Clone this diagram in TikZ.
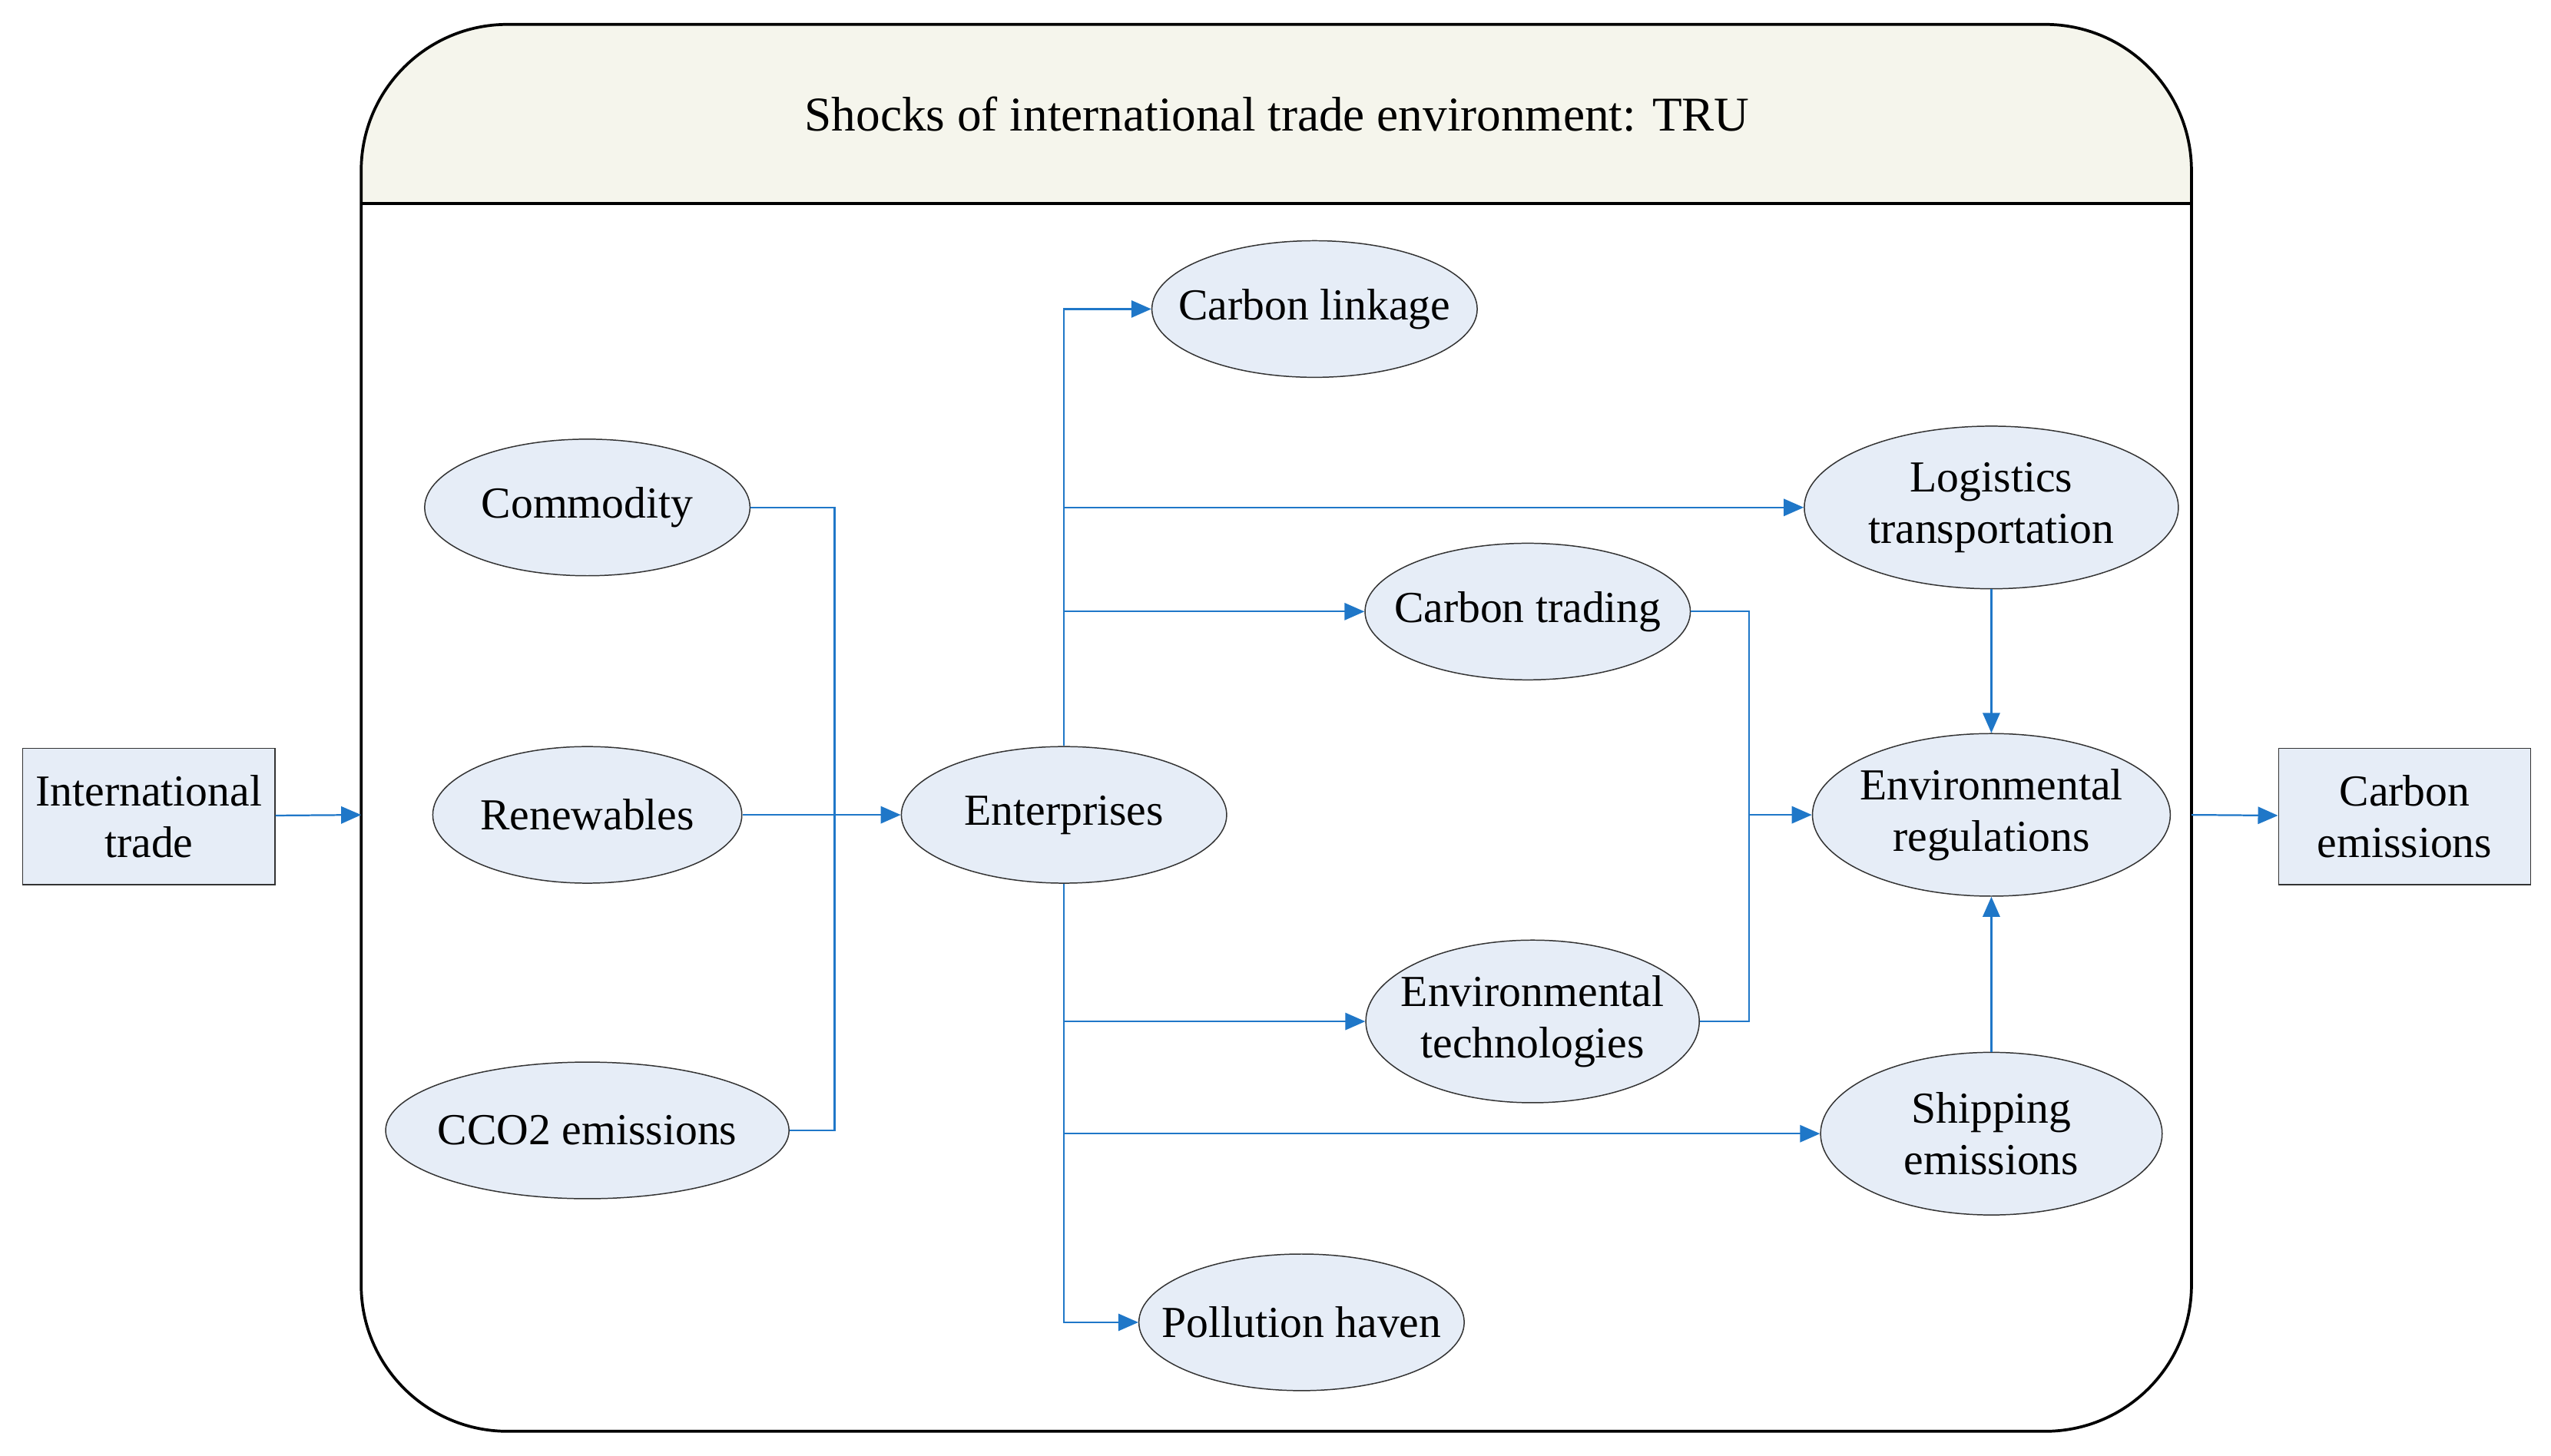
\documentclass[tikz,border=0pt]{standalone}
\usepackage{fontspec}
\setmainfont{Liberation Serif}
\usetikzlibrary{arrows.meta, positioning, shapes.geometric}
\definecolor{lnblue}{RGB}{31,119,200}
\definecolor{ellfill}{RGB}{230,237,247}
\definecolor{headfill}{RGB}{245,245,236}

\begin{document}
\begin{tikzpicture}[x=0.02cm, y=-0.02cm, every node/.style={font=\fontsize{15.5}{18}\selectfont},
  ell/.style={ellipse, draw=black!80, fill=ellfill, inner xsep=-0.5cm, inner ysep=-0.3cm, align=center},
  sqbox/.style={rectangle, draw=black!80, fill=ellfill, minimum width=3.1cm, minimum height=1.68cm, align=center},
  link/.style={lnblue, line width=0.6pt},
  arr/.style={link, -{Triangle[length=7pt, width=6pt]}}]
  \useasboundingbox (0,0) rectangle (1568,895);

  % outer frame
  \begin{scope}
    \clip (222,15) rectangle (1347,125);
    \fill[headfill, rounded corners=1.8cm] (222,15) rectangle (1347,880);
  \end{scope}
  \draw[line width=1pt, rounded corners=1.8cm] (222,15) rectangle (1347,880);
  \draw[line width=1pt] (222,125) -- (1347,125);
  \node[font=\fontsize{17}{20}\selectfont] (title) at (785,70) {Shocks of international trade environment: TRU};
  \coordinate (framein) at (222,501);
  \coordinate (frameout) at (1347,501);

  % nodes
  \node[sqbox] (trade) at (91.5,502) {International\\trade};
  \node[sqbox] (carbem) at (1478,502) {Carbon\\emissions};
  \node[ell, minimum width=4cm, minimum height=1.68cm] (comm) at (361,312) {Commodity};
  \node[ell, minimum width=3.8cm, minimum height=1.68cm] (renew) at (361,501) {Renewables};
  \node[ell, minimum width=4.96cm, minimum height=1.68cm] (cco) at (361,695) {CCO2 emissions};
  \node[ell, minimum width=4cm, minimum height=1.68cm] (enter) at (654,501) {Enterprises};
  \node[ell, minimum width=4cm, minimum height=1.68cm] (link) at (808,190) {Carbon linkage};
  \node[ell, minimum width=4.6cm, minimum height=2cm] (logis) at (1224,312) {Logistics\\transportation};
  \node[ell, minimum width=4cm, minimum height=1.68cm] (ctrade) at (939,376) {Carbon trading};
  \node[ell, minimum width=4.4cm, minimum height=2cm] (envreg) at (1224,501) {Environmental\\regulations};
  \node[ell, minimum width=4.1cm, minimum height=2cm] (envtech) at (942,628) {Environmental\\technologies};
  \node[ell, minimum width=4.2cm, minimum height=2cm] (ship) at (1224,697) {Shipping\\emissions};
  \node[ell, minimum width=4cm, minimum height=1.68cm] (haven) at (800,813) {Pollution haven};

  % connectors
  \draw[arr] (trade) -- (framein);
  \draw[arr] (frameout) -- (carbem);
  \draw[link] (comm.east) -- (513,312) |- (cco.east);
  \draw[arr] (renew) -- (enter);
  \draw[arr] (enter.north) |- (link.west);
  \draw[arr] (654,312) -- (logis.west);
  \draw[arr] (654,376) -- (ctrade.west);
  \draw[arr] (enter.south) |- (haven.west);
  \draw[arr] (654,628) -- (envtech.west);
  \draw[arr] (654,697) -- (ship.west);
  \draw[link] (ctrade.east) -| (1075,501);
  \draw[link] (envtech.east) -| (1075,501);
  \draw[arr] (1075,501) -- (envreg.west);
  \draw[arr] (logis) -- (envreg);
  \draw[arr] (ship) -- (envreg);
\end{tikzpicture}
\end{document}
